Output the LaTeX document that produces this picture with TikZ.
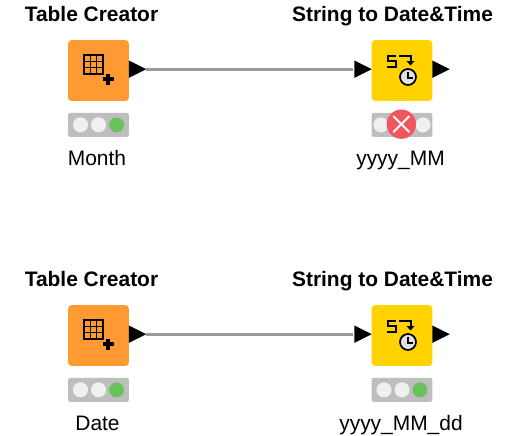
\documentclass[tikz,border=0pt]{standalone}
\usepackage{fontspec}
\setmainfont{Liberation Sans}
\usetikzlibrary{positioning,shapes.geometric}
\definecolor{nodeorange}{HTML}{FF9A33}
\definecolor{nodeyellow}{HTML}{FFD200}
\definecolor{barGray}{HTML}{BEBEBE}
\definecolor{lightOff}{HTML}{F0F0F0}
\definecolor{lightGreen}{HTML}{6CC15F}
\definecolor{errRed}{HTML}{F2555E}
\tikzset{
  knimebox/.style={rectangle, rounded corners=2.5pt, minimum size=45.5pt, inner sep=0pt, outer sep=0pt},
  statusbar/.style={rectangle, rounded corners=1.5pt, fill=barGray, minimum width=45.5pt, minimum height=18pt, inner sep=0pt, outer sep=0pt},
  lamp/.style={circle, minimum size=11.3pt, inner sep=0pt, outer sep=0pt},
  port/.style={isosceles triangle, isosceles triangle stretches, fill=black, minimum width=13pt, minimum height=13pt, inner sep=0pt, outer sep=0pt},
  title/.style={font=\bfseries\fontsize{15.7}{18}\selectfont, inner sep=0pt, anchor=base},
  label/.style={font=\fontsize{15.7}{18}\selectfont, inner sep=0pt, anchor=base},
  conn/.style={draw=black!40, line width=2.5pt},
  pics/tableicon/.style={code={
    \draw[line width=1.1pt] (-14.5,-15.5) rectangle (4.5,3.5);
    \draw[line width=0.9pt] (-8.2,-15.5) -- (-8.2,3.5) (-1.8,-15.5) -- (-1.8,3.5) (-14.5,-9.2) -- (4.5,-9.2) (-14.5,-2.8) -- (4.5,-2.8);
    \draw[line width=2.4pt] (4,8.5) -- (15,8.5) (9.5,3) -- (9.5,14);
  }},
  pics/dateicon/.style={code={
    \draw[line width=1.5pt] (-6,-14.5) -- (-14.5,-14.5) -- (-14.5,-9.5) -- (-6,-9.5) -- (-6,-4) -- (-15,-4);
    \draw[line width=1.5pt] (-3,-14.5) -- (8.5,-14.5) -- (8.5,-9);
    \fill (4.5,-9.5) -- (12.5,-9.5) -- (8.5,-5) -- cycle;
    \draw[line width=1.3pt, fill=white!88!black] (6,6.5) circle (8);
    \draw[line width=1pt] (6,1) -- (6,7.5) -- (11,7.5);
  }}
}
\begin{document}
\begin{tikzpicture}[x=0.75pt, y=-0.75pt]
  \useasboundingbox (0,0) rectangle (512,436);
  % draw upper row
  \node[title] (month_title_left) at (91.5,21) {Table Creator};
  \node[title] (month_title_right) at (392.5,21) {String to Date\&Time};
  \node[knimebox, fill=nodeorange] (creator_month) at (98.5,70.5) {};
  \node[knimebox, fill=nodeyellow] (parser_month) at (402,70.5) {};
  \pic at (creator_month.center) {tableicon};
  \pic at (parser_month.center) {dateicon};
  \node[port, right=0pt of creator_month, yshift=1pt] (creator_month_out) {};
  \node[port, left=0pt of parser_month, yshift=1pt] (parser_month_in) {};
  \node[port, right=0pt of parser_month, yshift=1pt] (parser_month_out) {};
  \draw[conn, shorten >=1pt] (creator_month_out.east) -- (parser_month_in.west);
  \node[statusbar, below=9pt of creator_month] (creator_month_bar) {};
  \node[lamp, fill=lightOff, xshift=-13.5pt] (creator_month_a) at (creator_month_bar) {};
  \node[lamp, fill=lightOff] (creator_month_b) at (creator_month_bar) {};
  \node[lamp, fill=lightGreen, xshift=13.5pt] (creator_month_c) at (creator_month_bar) {};
  \node[statusbar, below=9pt of parser_month] (parser_month_bar) {};
  \node[lamp, fill=lightOff, xshift=-15.75pt] (parser_month_a) at (parser_month_bar) {};
  \node[lamp, fill=lightOff, xshift=15.75pt] (parser_month_c) at (parser_month_bar) {};
  \node[circle, fill=errRed, minimum size=22pt, inner sep=0pt, xshift=-0.5pt, yshift=0.5pt] (parser_month_err) at (parser_month_bar) {};
  \draw[white, line width=1.5pt] ([shift={(-8,-8)}]parser_month_err.center) -- ([shift={(8,8)}]parser_month_err.center);
  \draw[white, line width=1.5pt] ([shift={(-8,8)}]parser_month_err.center) -- ([shift={(8,-8)}]parser_month_err.center);
  \node[label] (creator_month_label) at (97,165) {Month};
  \node[label] (parser_month_label) at (400.5,165) {yyyy\_MM};
  % draw lower row
  \node[title] (date_title_left) at (91.5,286) {Table Creator};
  \node[title] (date_title_right) at (392.5,286) {String to Date\&Time};
  \node[knimebox, fill=nodeorange] (creator_date) at (98.5,335.5) {};
  \node[knimebox, fill=nodeyellow] (parser_date) at (402,335.5) {};
  \pic at (creator_date.center) {tableicon};
  \pic at (parser_date.center) {dateicon};
  \node[port, right=0pt of creator_date, yshift=1pt] (creator_date_out) {};
  \node[port, left=0pt of parser_date, yshift=1pt] (parser_date_in) {};
  \node[port, right=0pt of parser_date, yshift=1pt] (parser_date_out) {};
  \draw[conn, shorten >=1pt] (creator_date_out.east) -- (parser_date_in.west);
  \node[statusbar, below=9pt of creator_date] (creator_date_bar) {};
  \node[lamp, fill=lightOff, xshift=-13.5pt] (creator_date_a) at (creator_date_bar) {};
  \node[lamp, fill=lightOff] (creator_date_b) at (creator_date_bar) {};
  \node[lamp, fill=lightGreen, xshift=13.5pt] (creator_date_c) at (creator_date_bar) {};
  \node[statusbar, below=9pt of parser_date] (parser_date_bar) {};
  \node[lamp, fill=lightOff, xshift=-13.5pt] (parser_date_a) at (parser_date_bar) {};
  \node[lamp, fill=lightOff] (parser_date_b) at (parser_date_bar) {};
  \node[lamp, fill=lightGreen, xshift=13.5pt] (parser_date_c) at (parser_date_bar) {};
  \node[label] (creator_date_label) at (97.5,430) {Date};
  \node[label] (parser_date_label) at (401,430) {yyyy\_MM\_dd};
\end{tikzpicture}
\end{document}
